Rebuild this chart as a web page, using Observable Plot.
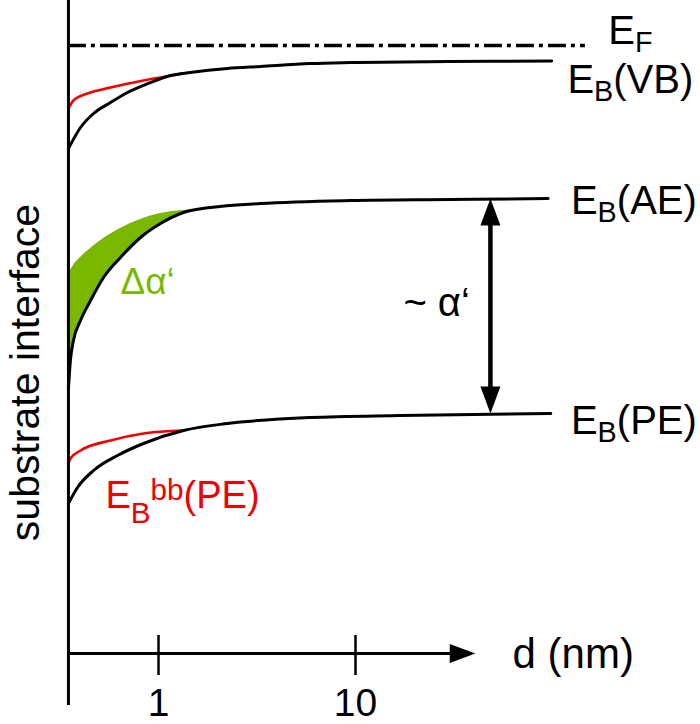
<!DOCTYPE html>
<html><head><meta charset="utf-8">
<script src="https://cdn.jsdelivr.net/npm/d3@7"></script>
<script src="https://cdn.jsdelivr.net/npm/@observablehq/plot@0.6"></script>
<style>html,body{margin:0;padding:0;background:#fff}</style>
</head><body><div id="chart"></div>
<script>
// ---------- data (d in nm on a log axis, energy in arbitrary eV-like units, E_F = 0, increasing downward)
const dInterface = 0.349;
const tickValues = [1, 10];
const fermiLevel = 0;
const fermiEndD = 147;
const axisEnergy = 6.08;
const axisTipD = 40.6;

const vbD   = [0.349, 0.402, 0.468, 0.571, 0.696, 0.911, 1.15, 1.45, 2.24, 3.29, 5.9, 9.4, 30, 99];
const vbE   = [1.03, 0.82, 0.68, 0.57, 0.47, 0.37, 0.30, 0.27, 0.23, 0.21, 0.18, 0.17, 0.16, 0.155];
const vbBbD = [0.349, 0.37, 0.436, 0.571, 0.839, 1.34];
const vbBbE = [0.63, 0.55, 0.48, 0.42, 0.35, 0.28];

const aeD   = [0.349, 0.357, 0.370, 0.402, 0.452, 0.526, 0.641, 0.810, 1.024, 1.339, 1.836, 3.29, 9.4, 30, 95];
const aeE   = [3.43, 3.15, 2.95, 2.75, 2.55, 2.32, 2.12, 1.92, 1.78, 1.67, 1.62, 1.58, 1.55, 1.54, 1.53];
const deltaD     = [0.349, 0.357, 0.370, 0.402, 0.452, 0.526, 0.641, 0.810, 1.024, 1.339, 1.45];
const deltaUpper = [2.28, 2.25, 2.20, 2.12, 2.03, 1.93, 1.83, 1.74, 1.68, 1.65, 1.645];
const deltaLower = [3.43, 3.15, 2.95, 2.75, 2.55, 2.32, 2.12, 1.92, 1.78, 1.67, 1.65];

const peD   = [0.349, 0.388, 0.468, 0.619, 0.839, 1.339, 2.24, 5.9, 16.9, 98];
const peE   = [4.58, 4.42, 4.25, 4.10, 3.98, 3.85, 3.78, 3.72, 3.70, 3.68];
const peBbD = [0.349, 0.357, 0.402, 0.571, 0.839, 1.339];
const peBbE = [4.17, 4.13, 4.05, 3.95, 3.88, 3.85];

const alphaArrowD = 48.4;
const alphaTop = 1.53, alphaBottom = 3.68;

const levelLabels = ["E|F||", "E|B||(VB)", "E|B||(AE)", "E|B||(PE)"];
const levelLabelD = [192, 119, 124, 124];
const levelLabelE = [-0.02, 0.47, 1.68, 3.88];
const bbLabel = "E|B|bb|(PE)";
const deltaLabel = "\u0394\u03b1\u2018";
const alphaLabel = "~ \u03b1\u2018";
const xLabel = "d (nm)";
const yLabel = "substrate interface";

// ---------- helpers
const pts = (ds, es) => ds.map((d, i) => ({d, E: es[i]}));
const red = "#f00000", green = "#7ab800";
const arrowHead = {draw(ctx, size) {
  const r = Math.sqrt(size / Math.PI);
  ctx.moveTo(0, 0); ctx.lineTo(r, 2.7 * r); ctx.lineTo(-r, 2.7 * r); ctx.closePath();
}};
const font = "'Liberation Sans', Arial, Helvetica, sans-serif";

const chart = Plot.plot({
  width: 700, height: 724,
  marginTop: 0, marginRight: 0, marginLeft: 0, marginBottom: 71,
  style: {fontFamily: font, fontSize: "40px", background: "#fff", color: "#000"},
  x: {type: "log", domain: [0.15773, 564.0], label: null},
  y: {domain: [-0.45, axisEnergy], reverse: true, axis: null},
  marks: [
    // green shaded Δα'
    Plot.areaY(deltaD.map((d, i) => ({d, lo: deltaLower[i], hi: deltaUpper[i]})),
      {x: "d", y1: "lo", y2: "hi", fill: green, curve: "monotone-x"}),
    // Fermi level
    Plot.ruleY([fermiLevel], {x1: dInterface, x2: fermiEndD, stroke: "#000", strokeWidth: 3.5, strokeDasharray: "18,5,4,5"}),
    // red (bb) curves
    Plot.line(pts(vbBbD, vbBbE), {x: "d", y: "E", stroke: red, strokeWidth: 2.6, curve: "monotone-x"}),
    Plot.line(pts(peBbD, peBbE), {x: "d", y: "E", stroke: red, strokeWidth: 2.6, curve: "monotone-x"}),
    // black curves
    Plot.line(pts(vbD, vbE), {x: "d", y: "E", stroke: "#000", strokeWidth: 3, curve: "monotone-x"}),
    Plot.line(pts(aeD, aeE), {x: "d", y: "E", stroke: "#000", strokeWidth: 3, curve: "monotone-x"}),
    Plot.line(pts(peD, peE), {x: "d", y: "E", stroke: "#000", strokeWidth: 3, curve: "monotone-x"}),
    // substrate interface line
    Plot.ruleX([dInterface], {y1: -0.45, y2: 6.60, stroke: "#000", strokeWidth: 3}),
    // x axis line + arrow
    Plot.ruleY([axisEnergy], {x1: dInterface, x2: 32, stroke: "#000", strokeWidth: 3}),
    Plot.dot([{d: axisTipD, E: axisEnergy}], {x: "d", y: "E", symbol: arrowHead, r: 9.5, fill: "#000", stroke: "none", rotate: 90}),
    Plot.ruleX(tickValues, {y1: 5.90, y2: 6.30, stroke: "#000", strokeWidth: 2.5}),
    Plot.axisX({ticks: tickValues, tickSize: 0, tickPadding: 35, tickFormat: d => String(d), fontSize: 39, fill: "#000", label: null}),
    // α' double arrow
    Plot.link([{d: alphaArrowD}], {x1: "d", x2: "d", y1: alphaTop + 0.15, y2: alphaBottom - 0.15, stroke: "#000", strokeWidth: 4.5}),
    Plot.dot([{d: alphaArrowD, E: alphaTop, r: 0}, {d: alphaArrowD, E: alphaBottom, r: 180}],
      {x: "d", y: "E", rotate: "r", symbol: arrowHead, r: 10, fill: "#000", stroke: "none"}),
    // labels
    Plot.text(levelLabels, {x: (_, i) => levelLabelD[i], y: (_, i) => levelLabelE[i], text: d => d,
      textAnchor: "start", lineAnchor: "bottom", fontSize: 40, fill: "#000"}),
    Plot.text([bbLabel], {x: 0.538, y: 4.62, text: d => d, textAnchor: "start", lineAnchor: "bottom", fontSize: 38, fill: red}),
    Plot.text([deltaLabel], {x: 0.641, y: 2.48, text: d => d, textAnchor: "start", lineAnchor: "bottom", fontSize: 37, fill: green}),
    Plot.text([alphaLabel], {x: 17.5, y: 2.70, text: d => d, textAnchor: "start", lineAnchor: "bottom", fontSize: 40, fill: "#000"}),
    Plot.text([xLabel], {x: 62.7, y: 6.22, text: d => d, textAnchor: "start", lineAnchor: "bottom", fontSize: 42, fill: "#000"}),
    Plot.text([yLabel], {x: 0.213, y: 3.27, text: d => d, rotate: -90, textAnchor: "middle", lineAnchor: "middle", fontSize: 41, fill: "#000"})
  ]
});
document.getElementById("chart").appendChild(chart);

// rich text: "base|sub|sup|tail"
const NS = "http://www.w3.org/2000/svg";
chart.querySelectorAll("text").forEach(t => {
  const s = t.textContent;
  if (!s.includes("|")) return;
  const [base, sub, sup, tail] = s.split("|");
  const fs = parseFloat(getComputedStyle(t).fontSize);
  const isBb = sup.length > 0;
  const subSize = isBb ? 0.78 : 0.72, subShift = isBb ? 0.4 : 0.22;
  const supShift = 0.2;
  while (t.firstChild) t.removeChild(t.firstChild);
  const add = (txt, size, dy) => {
    const ts = document.createElementNS(NS, "tspan");
    ts.textContent = txt;
    if (size) ts.setAttribute("font-size", size);
    if (dy) ts.setAttribute("dy", dy);
    t.appendChild(ts);
  };
  add(base);
  add(sub, fs * subSize, fs * subShift);
  let cur = fs * subShift;
  if (isBb) { add(sup, fs * subSize, -supShift * fs - cur); cur = -supShift * fs; }
  if (tail) add(tail, fs, -cur);
});
</script>
</body></html>
